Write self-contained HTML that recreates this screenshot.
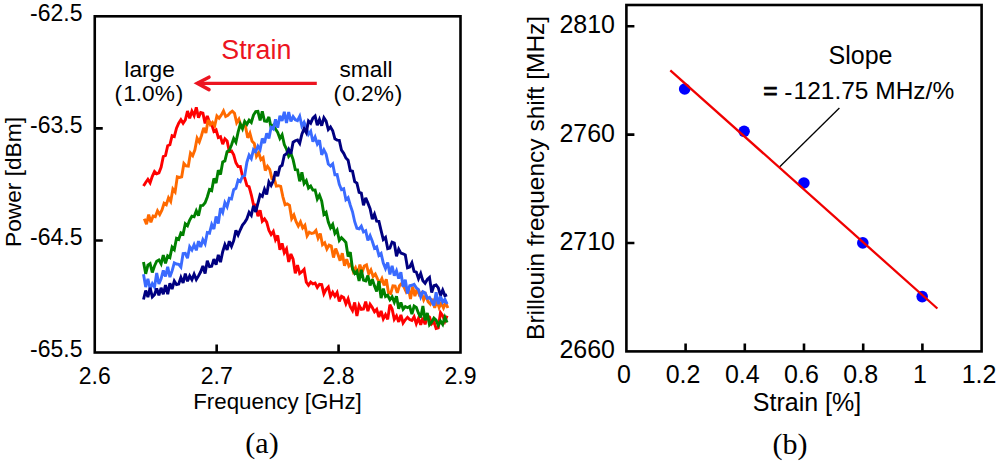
<!DOCTYPE html>
<html><head><meta charset="utf-8"><style>html,body{margin:0;padding:0;background:#fff;width:1000px;height:461px;overflow:hidden}svg{display:block}</style></head><body>
<svg width="1000" height="461" viewBox="0 0 1000 461">
<rect width="1000" height="461" fill="#fff"/>
<path d="M143.5,186.1 L145.7,182.5 L147.9,179.3 L150.1,182.8 L152.3,176.4 L154.5,171.5 L156.7,173.8 L158.9,172.8 L161.1,167.4 L163.3,156.5 L165.5,155.5 L167.7,145.7 L169.9,144.8 L172.1,135.7 L174.3,136.5 L176.5,128.2 L178.7,123.2 L180.9,119.8 L183.1,123.3 L185.3,120.0 L187.5,111.0 L189.7,118.4 L191.9,111.2 L194.1,115.6 L196.3,107.4 L198.5,117.6 L200.7,112.5 L202.9,113.1 L205.1,123.4 L207.3,115.9 L209.5,122.3 L211.7,124.3 L213.9,131.4 L216.1,129.9 L218.3,137.5 L220.5,136.6 L222.7,144.2 L224.9,138.8 L227.1,141.0 L229.3,151.4 L231.5,150.9 L233.7,154.9 L235.9,162.8 L238.1,166.6 L240.3,166.5 L242.5,176.2 L244.7,177.8 L246.9,185.5 L249.1,186.7 L251.3,194.8 L253.5,204.7 L255.7,205.1 L257.9,216.3 L260.1,210.3 L262.3,221.2 L264.5,218.9 L266.7,222.2 L268.9,230.3 L271.1,234.5 L273.3,231.4 L275.5,239.8 L277.7,235.5 L279.9,249.8 L282.1,243.4 L284.3,252.7 L286.5,248.9 L288.7,261.9 L290.9,254.0 L293.1,259.2 L295.3,273.4 L297.5,265.0 L299.7,273.5 L301.9,271.7 L304.1,269.4 L306.3,282.2 L308.5,285.3 L310.7,282.1 L312.9,283.8 L315.1,283.1 L317.3,287.5 L319.5,284.3 L321.7,284.6 L323.9,293.7 L326.1,289.3 L328.3,286.9 L330.5,296.4 L332.7,292.2 L334.9,296.2 L337.1,292.5 L339.3,301.5 L341.5,296.3 L343.7,297.6 L345.9,303.8 L348.1,298.8 L350.3,306.7 L352.5,310.5 L354.7,302.5 L356.9,316.0 L359.1,305.3 L361.3,309.4 L363.5,309.0 L365.7,301.7 L367.9,311.1 L370.1,304.3 L372.3,307.5 L374.5,311.8 L376.7,309.4 L378.9,317.0 L381.1,311.0 L383.3,318.9 L385.5,314.7 L387.7,319.4 L389.9,304.6 L392.1,309.0 L394.3,319.3 L396.5,316.0 L398.7,321.9 L400.9,315.0 L403.1,323.1 L405.3,319.8 L407.5,317.3 L409.7,319.5 L411.9,320.5 L414.1,316.8 L416.3,323.7 L418.5,318.3 L420.7,324.8 L422.9,317.7 L425.1,324.4 L427.3,316.1 L429.5,317.1 L431.7,323.8 L433.9,321.5 L436.1,328.5 L438.3,327.8 L440.5,312.6 L442.7,315.8 L444.9,321.3 L447.1,315.8" fill="none" stroke="#ff0000" stroke-width="2.9" stroke-linejoin="miter" stroke-miterlimit="3"/>
<path d="M144.3,218.7 L146.5,224.1 L148.7,214.6 L150.9,222.4 L153.1,216.0 L155.3,216.7 L157.5,210.9 L159.7,214.5 L161.9,210.1 L164.1,203.2 L166.3,204.7 L168.5,197.8 L170.7,201.5 L172.9,189.0 L175.1,191.9 L177.3,176.8 L179.5,177.4 L181.7,176.8 L183.9,163.5 L186.1,165.9 L188.3,166.1 L190.5,153.1 L192.7,155.7 L194.9,149.8 L197.1,138.2 L199.3,142.0 L201.5,135.5 L203.7,127.8 L205.9,133.0 L208.1,119.9 L210.3,124.7 L212.5,122.4 L214.7,125.8 L216.9,116.0 L219.1,118.2 L221.3,115.1 L223.5,111.0 L225.7,116.5 L227.9,115.4 L230.1,112.8 L232.3,111.2 L234.5,113.3 L236.7,122.8 L238.9,119.3 L241.1,126.4 L243.3,125.4 L245.5,126.4 L247.7,137.8 L249.9,133.2 L252.1,141.3 L254.3,143.5 L256.5,156.2 L258.7,152.7 L260.9,159.7 L263.1,157.6 L265.3,170.5 L267.5,166.3 L269.7,169.3 L271.9,178.5 L274.1,178.1 L276.3,186.1 L278.5,185.7 L280.7,186.3 L282.9,196.8 L285.1,204.7 L287.3,203.8 L289.5,205.4 L291.7,218.7 L293.9,215.0 L296.1,221.7 L298.3,226.1 L300.5,221.9 L302.7,227.9 L304.9,225.3 L307.1,235.9 L309.3,232.3 L311.5,233.5 L313.7,232.9 L315.9,230.5 L318.1,238.2 L320.3,233.5 L322.5,244.7 L324.7,242.7 L326.9,249.0 L329.1,245.1 L331.3,246.1 L333.5,257.6 L335.7,248.6 L337.9,254.2 L340.1,260.7 L342.3,253.2 L344.5,265.8 L346.7,259.3 L348.9,266.1 L351.1,263.6 L353.3,271.5 L355.5,267.7 L357.7,274.2 L359.9,264.6 L362.1,272.2 L364.3,266.0 L366.5,264.8 L368.7,273.7 L370.9,269.9 L373.1,276.5 L375.3,274.1 L377.5,278.9 L379.7,282.9 L381.9,278.6 L384.1,285.4 L386.3,279.2 L388.5,292.7 L390.7,293.6 L392.9,285.8 L395.1,286.1 L397.3,292.9 L399.5,285.7 L401.7,283.3 L403.9,286.9 L406.1,291.7 L408.3,287.5 L410.5,298.9 L412.7,286.5 L414.9,296.2 L417.1,289.0 L419.3,294.8 L421.5,292.8 L423.7,299.8 L425.9,295.3 L428.1,301.7 L430.3,304.1 L432.5,298.9 L434.7,307.9 L436.9,300.8 L439.1,307.4 L441.3,303.0 L443.5,307.9 L445.7,302.9 L447.9,308.0" fill="none" stroke="#ff6a00" stroke-width="2.9" stroke-linejoin="miter" stroke-miterlimit="3"/>
<path d="M143.5,261.9 L145.7,273.8 L147.9,265.2 L150.1,263.7 L152.3,272.5 L154.5,266.0 L156.7,261.2 L158.9,259.9 L161.1,263.8 L163.3,255.1 L165.5,263.4 L167.7,255.8 L169.9,257.4 L172.1,247.1 L174.3,249.6 L176.5,238.3 L178.7,239.4 L180.9,232.9 L183.1,234.1 L185.3,223.8 L187.5,225.8 L189.7,220.0 L191.9,216.2 L194.1,216.8 L196.3,210.9 L198.5,215.7 L200.7,205.6 L202.9,205.4 L205.1,202.7 L207.3,197.0 L209.5,189.6 L211.7,190.6 L213.9,178.4 L216.1,183.0 L218.3,170.2 L220.5,174.5 L222.7,161.9 L224.9,160.9 L227.1,151.7 L229.3,150.3 L231.5,145.0 L233.7,138.4 L235.9,142.2 L238.1,132.1 L240.3,124.1 L242.5,128.7 L244.7,121.4 L246.9,124.3 L249.1,120.2 L251.3,122.5 L253.5,115.0 L255.7,111.7 L257.9,111.4 L260.1,120.4 L262.3,111.4 L264.5,121.0 L266.7,121.3 L268.9,117.0 L271.1,127.6 L273.3,125.2 L275.5,129.1 L277.7,132.5 L279.9,138.4 L282.1,134.8 L284.3,144.6 L286.5,149.1 L288.7,156.3 L290.9,153.3 L293.1,159.6 L295.3,169.6 L297.5,169.8 L299.7,181.3 L301.9,172.4 L304.1,183.6 L306.3,180.6 L308.5,188.1 L310.7,186.0 L312.9,190.1 L315.1,190.0 L317.3,199.0 L319.5,195.1 L321.7,201.1 L323.9,214.3 L326.1,212.2 L328.3,222.0 L330.5,227.8 L332.7,224.4 L334.9,233.3 L337.1,230.1 L339.3,240.5 L341.5,237.7 L343.7,239.9 L345.9,242.5 L348.1,256.6 L350.3,252.2 L352.5,268.9 L354.7,273.4 L356.9,271.1 L359.1,281.0 L361.3,269.9 L363.5,280.2 L365.7,281.0 L367.9,275.6 L370.1,285.5 L372.3,279.1 L374.5,285.9 L376.7,291.5 L378.9,281.2 L381.1,298.1 L383.3,288.7 L385.5,296.6 L387.7,295.3 L389.9,299.7 L392.1,296.9 L394.3,302.3 L396.5,296.2 L398.7,308.7 L400.9,302.4 L403.1,309.3 L405.3,306.5 L407.5,307.7 L409.7,306.5 L411.9,314.1 L414.1,306.0 L416.3,307.5 L418.5,313.2 L420.7,317.5 L422.9,306.0 L425.1,320.4 L427.3,313.0 L429.5,324.8 L431.7,322.2 L433.9,318.1 L436.1,320.2 L438.3,325.3 L440.5,321.1 L442.7,324.4 L444.9,317.2 L447.1,322.5" fill="none" stroke="#008000" stroke-width="2.9" stroke-linejoin="miter" stroke-miterlimit="3"/>
<path d="M143.5,274.2 L145.7,287.1 L147.9,278.8 L150.1,288.7 L152.3,283.6 L154.5,287.2 L156.7,273.0 L158.9,284.0 L161.1,278.7 L163.3,270.5 L165.5,276.4 L167.7,266.7 L169.9,277.1 L172.1,270.9 L174.3,262.9 L176.5,264.0 L178.7,264.3 L180.9,267.1 L183.1,253.6 L185.3,253.4 L187.5,258.2 L189.7,246.8 L191.9,250.0 L194.1,244.6 L196.3,250.3 L198.5,241.2 L200.7,247.0 L202.9,239.7 L205.1,243.7 L207.3,232.5 L209.5,233.1 L211.7,224.4 L213.9,229.0 L216.1,216.5 L218.3,223.6 L220.5,208.1 L222.7,212.5 L224.9,202.6 L227.1,206.7 L229.3,198.3 L231.5,199.0 L233.7,189.7 L235.9,188.3 L238.1,180.0 L240.3,181.5 L242.5,176.3 L244.7,175.5 L246.9,162.2 L249.1,155.1 L251.3,158.6 L253.5,149.6 L255.7,151.7 L257.9,146.1 L260.1,149.5 L262.3,138.5 L264.5,143.0 L266.7,133.3 L268.9,138.4 L271.1,127.4 L273.3,129.0 L275.5,119.4 L277.7,127.7 L279.9,115.8 L282.1,120.9 L284.3,111.9 L286.5,123.0 L288.7,112.1 L290.9,121.3 L293.1,116.6 L295.3,119.7 L297.5,120.6 L299.7,116.2 L301.9,126.0 L304.1,122.2 L306.3,127.7 L308.5,134.4 L310.7,131.3 L312.9,141.7 L315.1,137.0 L317.3,144.0 L319.5,140.2 L321.7,154.9 L323.9,149.9 L326.1,154.2 L328.3,164.1 L330.5,166.1 L332.7,163.9 L334.9,174.7 L337.1,174.6 L339.3,184.4 L341.5,189.7 L343.7,188.8 L345.9,199.7 L348.1,197.6 L350.3,205.2 L352.5,211.8 L354.7,221.7 L356.9,228.3 L359.1,228.9 L361.3,226.2 L363.5,232.0 L365.7,230.8 L367.9,240.3 L370.1,235.7 L372.3,241.2 L374.5,248.3 L376.7,246.9 L378.9,255.4 L381.1,253.5 L383.3,263.0 L385.5,268.5 L387.7,262.5 L389.9,274.4 L392.1,265.8 L394.3,275.7 L396.5,270.8 L398.7,278.6 L400.9,272.3 L403.1,286.8 L405.3,279.7 L407.5,293.6 L409.7,285.7 L411.9,285.3 L414.1,284.3 L416.3,287.8 L418.5,289.6 L420.7,297.0 L422.9,291.7 L425.1,292.9 L427.3,298.3 L429.5,297.4 L431.7,301.3 L433.9,305.5 L436.1,292.3 L438.3,304.2 L440.5,296.3 L442.7,302.1 L444.9,299.3 L447.1,304.0" fill="none" stroke="#3a6bff" stroke-width="2.9" stroke-linejoin="miter" stroke-miterlimit="3"/>
<path d="M143.5,299.5 L145.7,290.5 L147.9,297.1 L150.1,287.8 L152.3,296.9 L154.5,294.6 L156.7,288.4 L158.9,295.4 L161.1,287.8 L163.3,294.2 L165.5,285.0 L167.7,294.1 L169.9,283.2 L172.1,289.0 L174.3,281.1 L176.5,284.6 L178.7,284.0 L180.9,277.4 L183.1,283.0 L185.3,273.7 L187.5,281.3 L189.7,275.9 L191.9,279.7 L194.1,274.1 L196.3,279.6 L198.5,275.9 L200.7,271.8 L202.9,266.0 L205.1,273.5 L207.3,260.8 L209.5,266.7 L211.7,266.3 L213.9,259.1 L216.1,264.7 L218.3,254.8 L220.5,262.2 L222.7,251.7 L224.9,244.7 L227.1,249.9 L229.3,241.2 L231.5,246.4 L233.7,240.7 L235.9,230.4 L238.1,235.0 L240.3,229.8 L242.5,225.1 L244.7,222.3 L246.9,218.8 L249.1,212.4 L251.3,215.4 L253.5,205.7 L255.7,211.9 L257.9,203.3 L260.1,194.8 L262.3,196.4 L264.5,189.3 L266.7,194.5 L268.9,182.0 L271.1,185.5 L273.3,180.7 L275.5,171.3 L277.7,176.2 L279.9,166.8 L282.1,165.3 L284.3,155.3 L286.5,153.8 L288.7,149.3 L290.9,153.8 L293.1,142.2 L295.3,140.7 L297.5,139.9 L299.7,143.4 L301.9,134.1 L304.1,128.7 L306.3,132.6 L308.5,121.0 L310.7,123.2 L312.9,118.2 L315.1,116.1 L317.3,125.1 L319.5,119.5 L321.7,125.7 L323.9,117.7 L326.1,121.1 L328.3,129.5 L330.5,127.0 L332.7,130.7 L334.9,138.8 L337.1,140.1 L339.3,140.3 L341.5,150.2 L343.7,153.3 L345.9,158.0 L348.1,160.2 L350.3,170.7 L352.5,171.2 L354.7,181.6 L356.9,183.2 L359.1,192.3 L361.3,193.1 L363.5,205.3 L365.7,197.8 L367.9,203.1 L370.1,208.6 L372.3,219.2 L374.5,214.2 L376.7,221.1 L378.9,221.4 L381.1,230.6 L383.3,239.5 L385.5,237.4 L387.7,248.6 L389.9,248.0 L392.1,242.1 L394.3,243.0 L396.5,256.3 L398.7,249.1 L400.9,253.1 L403.1,253.8 L405.3,255.0 L407.5,267.8 L409.7,267.0 L411.9,262.8 L414.1,271.4 L416.3,272.1 L418.5,278.6 L420.7,273.5 L422.9,280.8 L425.1,283.3 L427.3,279.5 L429.5,277.4 L431.7,292.5 L433.9,285.6 L436.1,284.9 L438.3,287.8 L440.5,295.4 L442.7,290.1 L444.9,295.6 L447.1,294.9" fill="none" stroke="#000080" stroke-width="2.9" stroke-linejoin="miter" stroke-miterlimit="3"/>
<rect x="94.75" y="16.3" width="365.75" height="336.20" fill="none" stroke="#000" stroke-width="2.6"/>
<path d="M94.75,128.37 H102.75 M94.75,240.43 H102.75 M216.67,352.5 V344.5 M338.58,352.5 V344.5 M626.4,243.03 H634.4 M626.4,134.67 H634.4 M626.4,26.3 H634.4 M685.60,351.4 V343.4 M744.80,351.4 V343.4 M804.00,351.4 V343.4 M863.20,351.4 V343.4 M922.40,351.4 V343.4" stroke="#000" stroke-width="2.6" fill="none"/>
<rect x="626.4" y="5.0" width="355.20" height="346.40" fill="none" stroke="#000" stroke-width="2.6"/>
<text x="82.5" y="20.8" font-family='"Liberation Sans", sans-serif' font-size="23" text-anchor="end">-62.5</text>
<text x="82.5" y="132.9" font-family='"Liberation Sans", sans-serif' font-size="23" text-anchor="end">-63.5</text>
<text x="82.5" y="244.9" font-family='"Liberation Sans", sans-serif' font-size="23" text-anchor="end">-64.5</text>
<text x="82.5" y="357.0" font-family='"Liberation Sans", sans-serif' font-size="23" text-anchor="end">-65.5</text>
<text x="94.8" y="383.5" font-family='"Liberation Sans", sans-serif' font-size="23" text-anchor="middle">2.6</text>
<text x="216.7" y="383.5" font-family='"Liberation Sans", sans-serif' font-size="23" text-anchor="middle">2.7</text>
<text x="338.6" y="383.5" font-family='"Liberation Sans", sans-serif' font-size="23" text-anchor="middle">2.8</text>
<text x="460.5" y="383.5" font-family='"Liberation Sans", sans-serif' font-size="23" text-anchor="middle">2.9</text>
<text x="277.5" y="409" font-family='"Liberation Sans", sans-serif' font-size="22.3" text-anchor="middle">Frequency [GHz]</text>
<text transform="translate(21.3,182) rotate(-90)" font-family='"Liberation Sans", sans-serif' font-size="22.7" text-anchor="middle">Power [dBm]</text>
<text x="262" y="452.5" font-family='"Liberation Serif", serif' font-size="30" text-anchor="middle">(a)</text>
<text x="256.3" y="58.6" font-family='"Liberation Sans", sans-serif' font-size="26.8" fill="#ec1420" text-anchor="middle">Strain</text>
<path d="M316.8,83.3 H197" stroke="#ec1420" stroke-width="3.3" fill="none"/>
<path d="M209,77.2 L197.3,83.3 L209,89.6" stroke="#ec1420" stroke-width="3.5" fill="none" stroke-linecap="round" stroke-linejoin="miter"/>
<text x="149.6" y="76.5" font-family='"Liberation Sans", sans-serif' font-size="22.7" text-anchor="middle">large</text>
<text x="149" y="101" font-family='"Liberation Sans", sans-serif' font-size="22.7" text-anchor="middle">(<tspan dx="1">1.0%</tspan><tspan dx="1">)</tspan></text>
<text x="366" y="77.3" font-family='"Liberation Sans", sans-serif' font-size="22.7" text-anchor="middle">small</text>
<text x="368" y="101" font-family='"Liberation Sans", sans-serif' font-size="22.7" text-anchor="middle">(<tspan dx="1">0.2%</tspan><tspan dx="1">)</tspan></text>
<text x="615" y="33.3" font-family='"Liberation Sans", sans-serif' font-size="25" text-anchor="end">2810</text>
<text x="615" y="141.7" font-family='"Liberation Sans", sans-serif' font-size="25" text-anchor="end">2760</text>
<text x="615" y="250.0" font-family='"Liberation Sans", sans-serif' font-size="25" text-anchor="end">2710</text>
<text x="615" y="358.4" font-family='"Liberation Sans", sans-serif' font-size="25" text-anchor="end">2660</text>
<text x="623.9" y="383" font-family='"Liberation Sans", sans-serif' font-size="25" text-anchor="middle">0</text>
<text x="683.1" y="383" font-family='"Liberation Sans", sans-serif' font-size="25" text-anchor="middle">0.2</text>
<text x="742.3" y="383" font-family='"Liberation Sans", sans-serif' font-size="25" text-anchor="middle">0.4</text>
<text x="801.5" y="383" font-family='"Liberation Sans", sans-serif' font-size="25" text-anchor="middle">0.6</text>
<text x="860.7" y="383" font-family='"Liberation Sans", sans-serif' font-size="25" text-anchor="middle">0.8</text>
<text x="919.9" y="383" font-family='"Liberation Sans", sans-serif' font-size="25" text-anchor="middle">1</text>
<text x="979.1" y="383" font-family='"Liberation Sans", sans-serif' font-size="25" text-anchor="middle">1.2</text>
<text x="807" y="411" font-family='"Liberation Sans", sans-serif' font-size="25" text-anchor="middle">Strain [%]</text>
<text transform="translate(544.4,177.9) rotate(-90)" font-family='"Liberation Sans", sans-serif' font-size="24.5" text-anchor="middle">Brillouin frequency shift [MHz]</text>
<text x="790" y="454" font-family='"Liberation Serif", serif' font-size="30" text-anchor="middle">(b)</text>
<text x="860.5" y="64" font-family='"Liberation Sans", sans-serif' font-size="25" text-anchor="middle">Slope</text>
<text x="858.7" y="99" font-family='"Liberation Sans", sans-serif' font-size="24.5" text-anchor="middle"><tspan stroke="#000" stroke-width="0.9">=</tspan> <tspan dy="1.2">-</tspan><tspan dy="-1.2" dx="1">121.75 MHz/%</tspan></text>
<path d="M839.4,108 L779.5,167" stroke="#000" stroke-width="1.3" fill="none"/>
<circle cx="684.7" cy="89" r="5.8" fill="#0000ff"/>
<circle cx="744.1" cy="131.3" r="5.8" fill="#0000ff"/>
<circle cx="803.9" cy="183" r="5.8" fill="#0000ff"/>
<circle cx="862.8" cy="242.9" r="5.8" fill="#0000ff"/>
<circle cx="922.2" cy="296.6" r="5.8" fill="#0000ff"/>
<path d="M670.3,70.3 L937.4,308.5" stroke="#f00000" stroke-width="2.3" fill="none"/>
</svg>
</body></html>
